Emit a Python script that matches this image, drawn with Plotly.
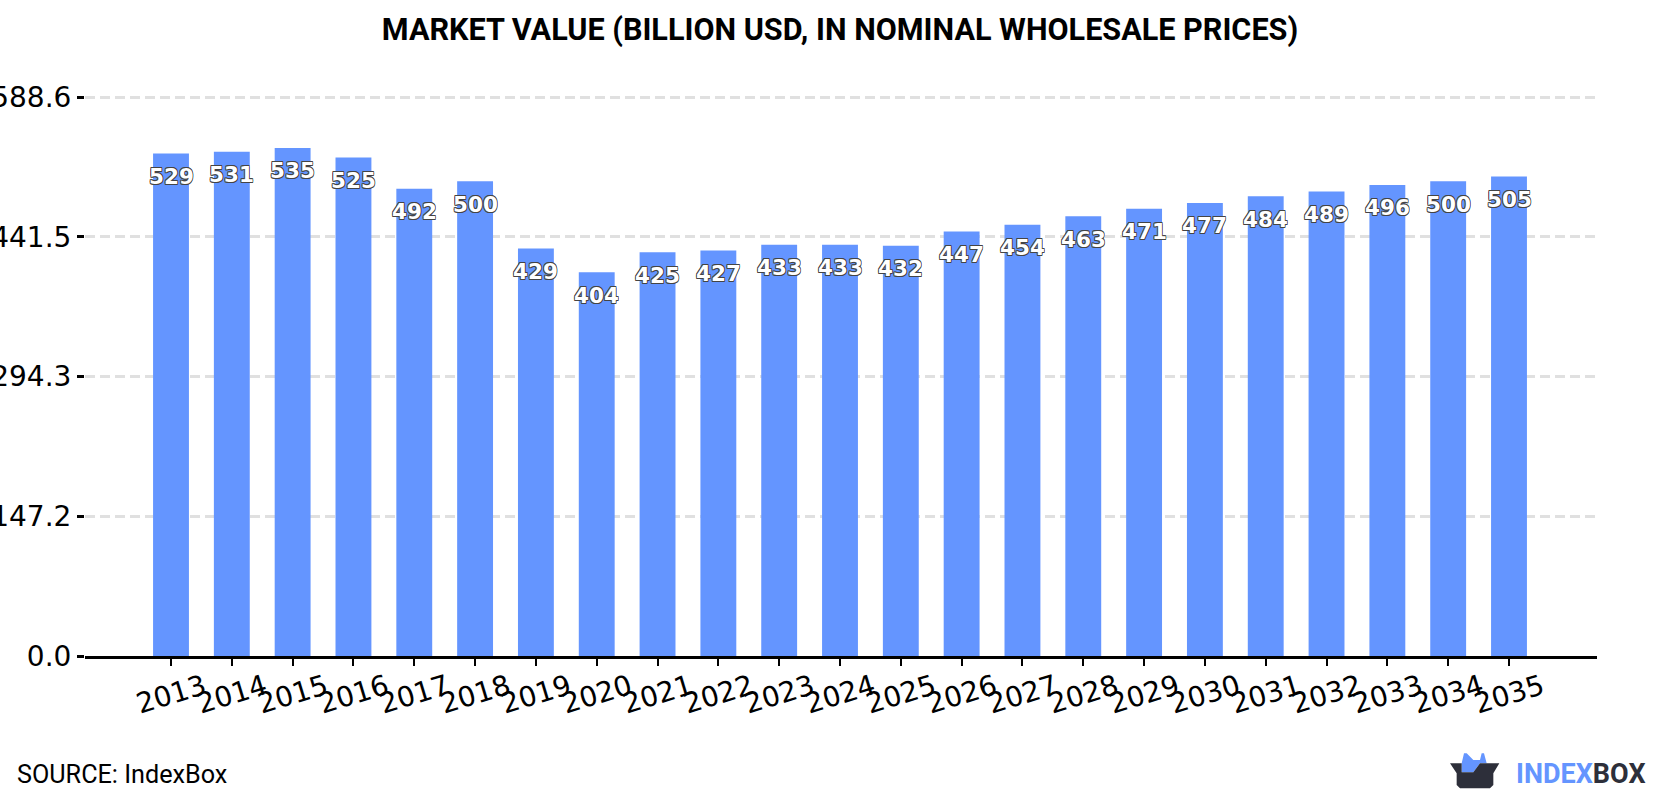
import plotly.graph_objects as go

years = list(range(2013, 2036))
values = [529, 531, 535, 525, 492, 500, 429, 404, 425, 427, 433, 433, 432,
          447, 454, 463, 471, 477, 484, 489, 496, 500, 505]
y_ticks = [0.0, 147.2, 294.3, 441.5, 588.6]

WIDTH, HEIGHT = 1680, 800
PLOT_LEFT, PLOT_RIGHT, PLOT_TOP, PLOT_BOTTOM = 85, 1597, 97, 656
Y_MAX = 592.0
BLUE, DARK = "#6495ff", "#2d2f3a"


def px(x):
    return x / WIDTH


def py(y):
    return 1 - y / HEIGHT


def logo_path(points):
    # Logo outline is given on a 3x grid relative to the logo's corner
    coords = [(px(1440 + a / 3), py(745 + b / 3)) for a, b in points]
    return "M" + " L".join(f"{a:.5f},{b:.5f}" for a, b in coords) + " Z"


def page_text(x, y, text, position, size, weight="normal", color="black"):
    # Text placed in page pixels on the hidden full-page axes
    return go.Scatter(x=[x], y=[y], text=[text], mode="text", textposition=position,
                      textfont=dict(family="Roboto", size=size, color=color, weight=weight),
                      xaxis="x2", yaxis="y2", hoverinfo="skip", cliponaxis=False)


OUTLINE = ("0.7px 0 0 #444, -0.7px 0 0 #444, 0 0.7px 0 #444, 0 -0.7px 0 #444, "
           "0.7px 0.7px 0 #444, -0.7px -0.7px 0 #444, 0.7px -0.7px 0 #444, -0.7px 0.7px 0 #444")

fig = go.Figure(go.Bar(x=years, y=values, width=0.59,
                       marker=dict(color=BLUE, line_width=0),
                       hoverinfo="x+y"))

# Value labels sit just under the top of each bar
for year, value in zip(years, values):
    fig.add_annotation(x=year, y=value, text=str(value), showarrow=False,
                       yshift=-23,
                       font=dict(family="DejaVu Sans", size=21.5, color="white",
                                 weight="bold", shadow=OUTLINE))

# Title, source line and wordmark
fig.add_trace(page_text(840, 32, "MARKET VALUE (BILLION USD, IN NOMINAL WHOLESALE PRICES)",
                        "middle center", 30.6, "bold"))
fig.add_trace(page_text(17, 777, "SOURCE: IndexBox", "middle right", 25.2))
fig.add_trace(page_text(1516, 776,
                        f'<span style="color:{BLUE}">INDEX</span><span style="color:{DARK}">BOX</span>',
                        "middle right", 27, "bold"))

# Brand mark
fig.add_shape(type="path", xref="paper", yref="paper", line_width=0, fillcolor=BLUE,
              path=logo_path([(65, 82), (65, 55), (72, 25), (80, 25), (100, 45), (120, 45),
                              (125, 25), (132, 25), (140, 55), (120, 55), (100, 82)]))
fig.add_shape(type="path", xref="paper", yref="paper", line_width=0, fillcolor=DARK,
              path=logo_path([(30, 55), (65, 55), (65, 82), (100, 82), (120, 55), (178, 55),
                              (160, 85), (160, 120), (150, 130), (60, 130), (50, 120), (50, 85)]))

# Zero margins make paper coordinates equal to page coordinates
unit = (1509 - 171) / 22
fig.update_layout(
    width=WIDTH, height=HEIGHT, autosize=False,
    margin=dict(l=0, r=0, t=0, b=0),
    plot_bgcolor="rgba(0,0,0,0)", paper_bgcolor="white", showlegend=False,
    xaxis=dict(domain=[px(PLOT_LEFT), px(PLOT_RIGHT)], automargin=False,
               range=[2013 - (171 - PLOT_LEFT) / unit, 2013 + (PLOT_RIGHT - 171) / unit],
               tickmode="array", tickvals=years, ticktext=[str(y) for y in years],
               tickangle=-17, ticklabelshift=33, ticklabelstandoff=-6,
               ticks="outside", ticklen=7, tickwidth=2, tickcolor="black",
               tickfont=dict(family="DejaVu Sans", size=28, color="black"),
               showline=True, linecolor="black", linewidth=3, showgrid=False, zeroline=False),
    yaxis=dict(domain=[py(PLOT_BOTTOM), py(PLOT_BOTTOM - (PLOT_BOTTOM - PLOT_TOP) * Y_MAX / y_ticks[-1])],
               automargin=False,
               range=[0, Y_MAX], tickmode="array", tickvals=y_ticks, ticktext=[f"{t:.1f}" for t in y_ticks],
               ticks="outside", ticklen=7, tickwidth=2.5, tickcolor="black",
               tickfont=dict(family="DejaVu Sans", size=28, color="black"),
               showline=False, showgrid=True, gridcolor="#e0e0e0", gridwidth=2.5, griddash="10px,5px",
               zeroline=False),
    # Hidden axes spanning the page in pixels
    xaxis2=dict(domain=[0, 1], range=[0, WIDTH], visible=False, fixedrange=True, anchor="y2", automargin=False),
    yaxis2=dict(domain=[0, 1], range=[HEIGHT, 0], visible=False, fixedrange=True, anchor="x2", automargin=False),
)

fig.write_html("out.html")
